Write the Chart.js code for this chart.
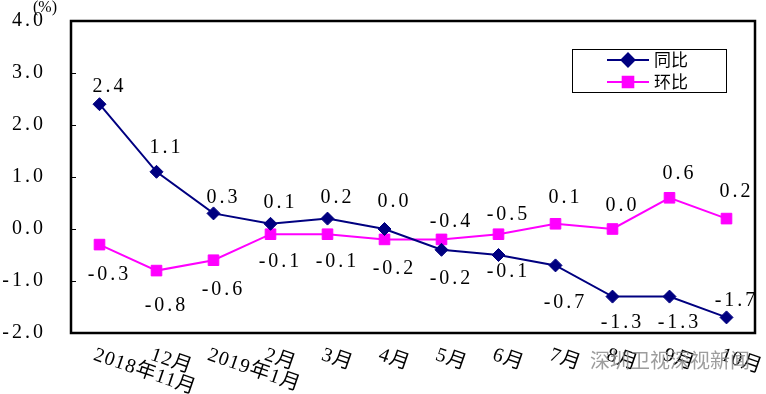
<!DOCTYPE html>
<html>
<head>
<meta charset="utf-8">
<script src="https://cdn.jsdelivr.net/npm/chart.js@4.4.0/dist/chart.umd.min.js"></script>
<style>
  html, body { margin: 0; padding: 0; background: #fff; }
  #wrap { width: 766px; height: 394px; }
</style>
</head>
<body>
<div id="wrap"><canvas id="chart"></canvas></div>
<script>
// --- dados ---
const months = ['2018年11月', '12月', '2019年1月', '2月', '3月', '4月', '5月', '6月', '7月', '8月', '9月', '10月'];
const tongbi = [2.4, 1.1, 0.3, 0.1, 0.2, 0.0, -0.4, -0.5, -0.7, -1.3, -1.3, -1.7];
const huanbi = [-0.3, -0.8, -0.6, -0.1, -0.1, -0.2, -0.2, -0.1, 0.1, 0.0, 0.6, 0.2];
const yTicks = [-2, -1, 0, 1, 2, 3, 4];

// deslocamento vertical dos rótulos (px), como no original
const tbLabelDy = [-17, -24, -16, -21, -21, -27, -28, -40, 37, 26, 26, -17];
const hbLabelDy = [30, 35, 30, 28, 28, 29, 39, 38, -26, -23, -24, -27];

const SERIF = "'Liberation Serif', 'Noto Sans CJK SC', serif";
const CJK = "'Noto Sans CJK SC', sans-serif";

const decor = {
  id: 'decor',
  beforeDraw(chart) {
    chart.ctx.letterSpacing = '3px';
  },
  afterDatasetsDraw(chart) {
    const ctx = chart.ctx;
    const a = chart.chartArea;
    const x = chart.scales.x, y = chart.scales.y;
    ctx.save();
    // moldura
    ctx.strokeStyle = '#000';
    ctx.lineWidth = 2.5;
    ctx.strokeRect(a.left, a.top, a.right - a.left, a.bottom - a.top);
    // marcas do eixo y (para dentro)
    ctx.lineWidth = 1;
    yTicks.forEach(v => {
      const py = Math.round(y.getPixelForValue(v)) + 0.5;
      ctx.beginPath();
      ctx.moveTo(a.left, py);
      ctx.lineTo(a.left + 5, py);
      ctx.stroke();
    });
    // rótulos dos pontos
    ctx.fillStyle = '#000';
    ctx.font = '20px ' + SERIF;
    ctx.letterSpacing = '3px';
    ctx.textAlign = 'center';
    ctx.textBaseline = 'middle';
    const m0 = chart.getDatasetMeta(0).data;
    const m1 = chart.getDatasetMeta(1).data;
    tongbi.forEach((v, i) => ctx.fillText(v.toFixed(1), m0[i].x + 10, m0[i].y + tbLabelDy[i]));
    huanbi.forEach((v, i) => ctx.fillText(v.toFixed(1), m1[i].x + 10, m1[i].y + hbLabelDy[i]));
    // rótulos do eixo x (inclinados)
    ctx.textAlign = 'left';
    ctx.textBaseline = 'top';
    ctx.letterSpacing = '1px';
    months.forEach((m, i) => {
      ctx.save();
      ctx.translate(x.getPixelForValue(i) - 2, a.bottom + 12);
      ctx.rotate(19 * Math.PI / 180);
      ctx.fillText(m, 0, 0);
      ctx.restore();
    });
    // unidade
    ctx.letterSpacing = '0px';
    ctx.font = '16px ' + SERIF;
    ctx.textAlign = 'center';
    ctx.fillText('(%)', 45, 0);
    // legenda
    const lx = 572, ly = 49, lw = 154, lh = 43;
    ctx.fillStyle = '#fff';
    ctx.fillRect(lx, ly, lw, lh);
    ctx.strokeStyle = '#000';
    ctx.lineWidth = 1;
    ctx.strokeRect(lx + 0.5, ly + 0.5, lw, lh);
    chart.data.datasets.forEach((ds, k) => {
      const cy = ly + 11 + k * 22;
      ctx.strokeStyle = ds.borderColor;
      ctx.lineWidth = 2;
      ctx.beginPath();
      ctx.moveTo(lx + 35, cy);
      ctx.lineTo(lx + 77, cy);
      ctx.stroke();
      Chart.helpers.drawPoint(ctx, {
        pointStyle: ds.pointStyle, radius: ds.pointRadius, borderWidth: 1
      }, lx + 56, cy);
      ctx.fillStyle = ds.backgroundColor;
      ctx.fill();
      ctx.fillStyle = '#000';
      ctx.font = '17px ' + CJK;
      ctx.textAlign = 'left';
      ctx.textBaseline = 'middle';
      ctx.fillText(ds.label, lx + 82, cy);
    });
    // marca d'água
    ctx.font = '20px ' + CJK;
    ctx.textAlign = 'left';
    ctx.textBaseline = 'middle';
    ctx.fillStyle = 'rgba(140,140,140,0.85)';
    ctx.fillText('深圳卫视深视新闻', 590, 360);
    ctx.restore();
  }
};

new Chart(document.getElementById('chart'), {
  type: 'line',
  data: {
    labels: months,
    datasets: [
      {
        label: '同比',
        data: tongbi,
        borderColor: '#000080',
        backgroundColor: '#000080',
        borderWidth: 2,
        pointStyle: 'rectRot',
        pointRadius: 6.5,
        pointBorderWidth: 1,
        tension: 0
      },
      {
        label: '环比',
        data: huanbi,
        borderColor: '#FF00FF',
        backgroundColor: '#FF00FF',
        borderWidth: 2,
        pointStyle: 'rect',
        pointRadius: 7.5,
        pointBorderWidth: 1,
        tension: 0
      }
    ]
  },
  options: {
    responsive: true,
    maintainAspectRatio: false,
    animation: false,
    layout: { padding: { top: 21, right: 11, left: 0, bottom: 0 } },
    plugins: { legend: { display: false }, tooltip: { enabled: false } },
    scales: {
      x: {
        offset: true,
        grid: { display: false, drawTicks: false },
        border: { display: false },
        ticks: { display: false },
        afterFit: s => { s.height = 61; }
      },
      y: {
        min: -2,
        max: 4,
        grid: { display: false, drawTicks: false },
        border: { display: false },
        afterBuildTicks: s => { s.ticks = yTicks.map(v => ({ value: v })); },
        afterFit: s => { s.width = 71; s.paddingTop = 0; s.paddingBottom = 0; },
        ticks: {
          color: '#000',
          padding: 25,
          font: { family: SERIF, size: 20 },
          callback: v => Number(v).toFixed(1)
        }
      }
    }
  },
  plugins: [decor]
});
</script>
</body>
</html>
